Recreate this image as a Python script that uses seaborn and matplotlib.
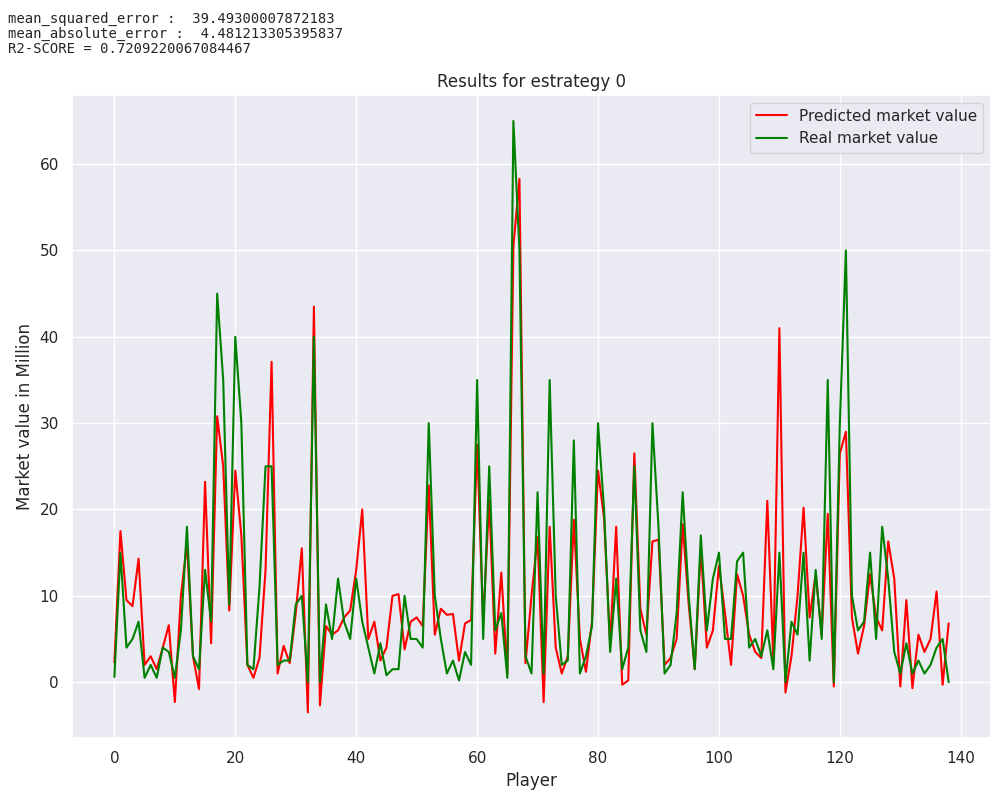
import matplotlib
matplotlib.use("Agg")
import matplotlib.pyplot as plt
import seaborn as sns
import numpy as np

predicted = [2.3,17.5,9.5,8.8,14.3,2,3,1.5,4,6.6,-2.3,10,16,3,-0.8,23.2,4.5,30.8,25,8.3,
24.5,17,2,0.5,2.8,13,37.1,1,4.2,2.2,8,15.5,-3.5,43.5,-2.7,6.5,5.5,6,7.5,8.3,
13,20,5,7,2.5,4,10,10.2,3.8,7,7.5,6.5,22.8,5.5,8.5,7.8,7.9,2.5,6.8,7.2,
27.5,7,21,3.3,12.7,1,50.5,58.3,2.2,10,16.8,-2.3,18,4,1,3,18.8,5,1.2,7,
24.5,19,4.5,18,-0.3,0.2,26.5,8.5,5.5,16.3,16.5,2,2.8,5,18.3,9,1.5,15.5,4,6,
13.5,8,2,12.5,10,5.5,3.5,2.8,21,2.5,41,-1.2,3,10,20.2,7.5,12.5,5.5,19.5,-0.5,
26.5,29,7.5,3.3,6.5,12.5,7.5,6,16.3,12,-0.5,9.5,-0.7,5.5,3.5,5,10.5,-0.3,6.8]
real = [0.6,15,4,5,7,0.5,2,0.5,4,3.5,0.5,6,18,3,1.5,13,7,45,35,9,
40,30,2,1.5,11,25,25,2,2.5,2.5,9,10,0,40,0,9,5,12,7,5,
12,7,4,1,4.5,0.8,1.5,1.5,10,5,5,4,30,10,5,1,2.5,0.2,3.5,2,
35,5,25,6,8,0.5,65,50,3,1,22,1,35,10,2,2.5,28,1,3,6.5,
30,20,3.5,12,1.5,4,25,6,3.5,30,18,1,2,8,22,10,1.5,17,6,12,
15,5,5,14,15,4,5,3,6,1.5,15,0,7,5.5,15,2.5,13,5,35,0,
30,50,10,6,7,15,5,18,12,3.5,1,4.5,1,2.5,1,2,4,5,0]
players = list(range(len(real)))

sns.set_theme(style="darkgrid")
fig = plt.figure(figsize=(10.01, 7.99), dpi=100)
ax = fig.add_axes([0.072, 0.076, 0.918, 0.805])
sns.lineplot(x=players, y=predicted, color="red", label="Predicted market value", ax=ax)
sns.lineplot(x=players, y=real, color="green", label="Real market value", ax=ax)
ax.set_title("Results for estrategy 0", fontsize=12)
ax.set_xlabel("Player", fontsize=12)
ax.set_ylabel("Market value in Million", fontsize=12)
ax.set_xlim(-7, 145)
ax.set_ylim(-6.5, 68)
ax.legend(loc="upper right", fontsize=11)
fig.text(0.008, 0.985, "mean_squared_error :  39.49300007872183\nmean_absolute_error :  4.481213305395837\nR2-SCORE = 0.7209220067084467",
         family="DejaVu Sans Mono", fontsize=10, va="top", linespacing=1.1)
fig.savefig("out.png", dpi=100, facecolor="white")
